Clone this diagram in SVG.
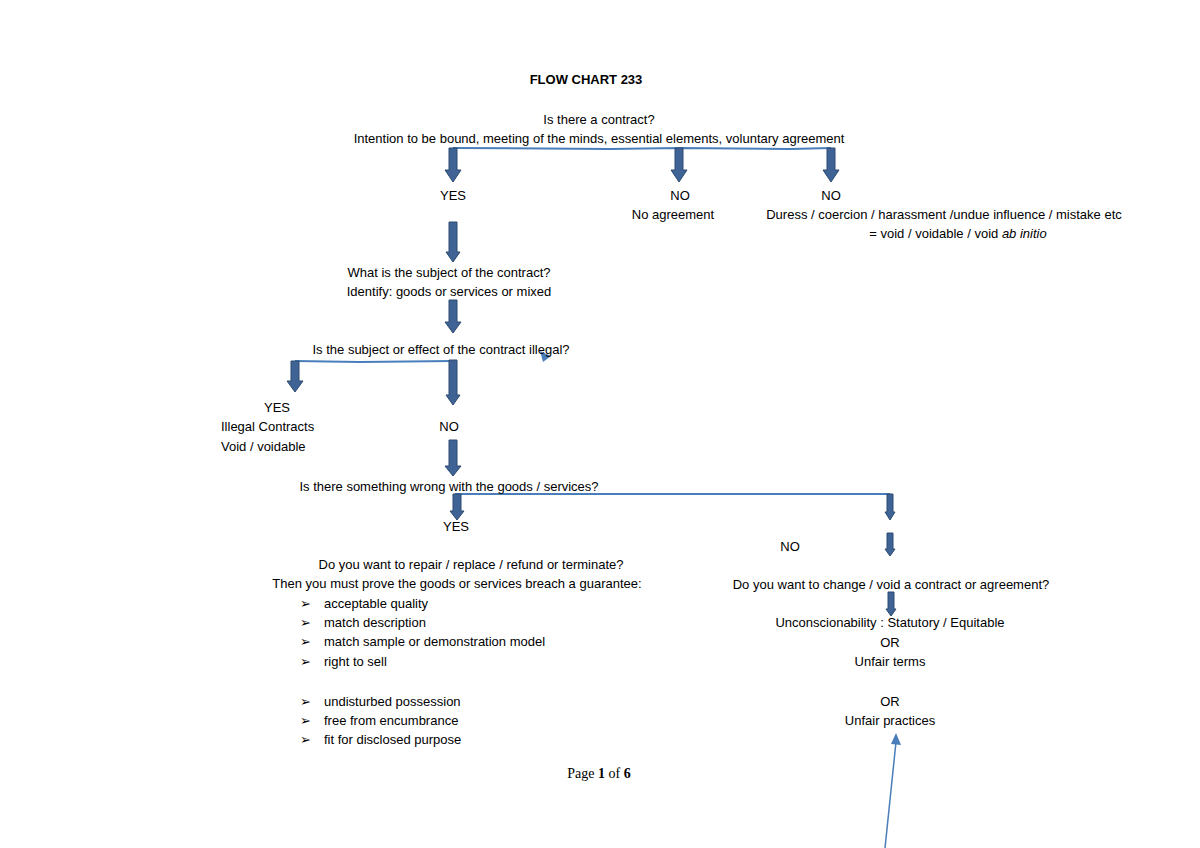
<svg xmlns="http://www.w3.org/2000/svg" width="1200" height="848" viewBox="0 0 1200 848">
<defs>
<style>
text{font-family:"Liberation Sans",Arial,sans-serif;font-size:13px;fill:#000}
.c{text-anchor:middle}
.ln{stroke:#4a7ebb;stroke-width:2;fill:none}
.ba{fill:#3e6394;stroke:#2c4a70;stroke-width:1}
</style>
<symbol id="ba" viewBox="0 0 16 10" overflow="visible"></symbol>
</defs>
<rect width="1200" height="848" fill="#fff"/>
<g id="connectors">
<path class="ln" d="M453 148 L610 149 L679 148 L790 149 L831 148"/>
<path class="ln" d="M295 361 L360 362 L453 361"/>
<path class="ln" d="M455 494 L890 494"/>
<polygon points="540,351 551,356 543,362" fill="#4a7ebb"/>
<path d="M885 848 L896 742" stroke="#4a7ebb" stroke-width="1.5" fill="none"/>
<polygon points="896,733 901,745 891,744" fill="#4a7ebb"/>
<path class="ba" d="M449 148 h8 v22 h4 l-8 12 l-8 -12 h4 z"/>
<path class="ba" d="M675 148 h8 v22 h4 l-8 12 l-8 -12 h4 z"/>
<path class="ba" d="M827 148 h8 v22 h4 l-8 12 l-8 -12 h4 z"/>
<path class="ba" d="M449 222 h8 v30 h3 l-7 10 l-7 -10 h3 z"/>
<path class="ba" d="M449 300 h8 v22 h4 l-8 11 l-8 -11 h4 z"/>
<path class="ba" d="M291 361 h8 v20 h4 l-8 11 l-8 -11 h4 z"/>
<path class="ba" d="M449 360 h8 v35 h3 l-7 10 l-7 -10 h3 z"/>
<path class="ba" d="M449 440 h8 v26 h4 l-8 10 l-8 -10 h4 z"/>
<path class="ba" d="M453 494 h8 v17 h3 l-7 9 l-7 -9 h3 z"/>
<path class="ba" d="M887 494 h6 v18 h2 l-5 8 l-5 -8 h2 z"/>
<path class="ba" d="M887 533 h6 v16 h2 l-5 7 l-5 -7 h2 z"/>
<path class="ba" d="M888 592 h6 v17 h2 l-5 7 l-5 -7 h2 z"/>
</g>
<g id="title"><text x="586" y="84" class="c" style="font-weight:bold">FLOW CHART 233</text></g>
<g id="n-contract"><text x="599" y="124" class="c">Is there a contract?</text><text x="599" y="143" class="c">Intention to be bound, meeting of the minds, essential elements, voluntary agreement</text></g>
<g id="n-yes1"><text x="453" y="200" class="c">YES</text></g>
<g id="n-no1"><text x="680" y="200" class="c">NO</text><text x="673" y="219" class="c">No agreement</text></g>
<g id="n-no2"><text x="831" y="200" class="c">NO</text><text x="944" y="219" class="c">Duress / coercion / harassment /undue influence / mistake etc</text><text x="958" y="238" class="c">= void / voidable / void <tspan font-style="italic">ab initio</tspan></text></g>
<g id="n-subject"><text x="449" y="277" class="c">What is the subject of the contract?</text><text x="449" y="296" class="c">Identify: goods or services or mixed</text></g>
<g id="n-illegal"><text x="441" y="354" class="c">Is the subject or effect of the contract illegal?</text></g>
<g id="n-yes2"><text x="277" y="412" class="c">YES</text><text x="221" y="431">Illegal Contracts</text><text x="221" y="451">Void / voidable</text></g>
<g id="n-no3"><text x="449" y="431" class="c">NO</text></g>
<g id="n-wrong"><text x="449" y="491" class="c">Is there something wrong with the goods / services?</text></g>
<g id="n-yes3"><text x="456" y="531" class="c">YES</text></g>
<g id="n-no4"><text x="790" y="551" class="c">NO</text></g>
<g id="n-repair"><text x="471" y="569" class="c">Do you want to repair / replace / refund or terminate?</text><text x="457" y="588" class="c">Then you must prove the goods or services breach a guarantee:</text>
<text x="300" y="608">➢</text><text x="324" y="608">acceptable quality</text>
<text x="300" y="627">➢</text><text x="324" y="627">match description</text>
<text x="300" y="646">➢</text><text x="324" y="646">match sample or demonstration model</text>
<text x="300" y="666">➢</text><text x="324" y="666">right to sell</text>
<text x="300" y="706">➢</text><text x="324" y="706">undisturbed possession</text>
<text x="300" y="725">➢</text><text x="324" y="725">free from encumbrance</text>
<text x="300" y="744">➢</text><text x="324" y="744">fit for disclosed purpose</text></g>
<g id="n-change"><text x="891" y="589" class="c">Do you want to change / void a contract or agreement?</text>
<text x="890" y="627" class="c">Unconscionability : Statutory / Equitable</text>
<text x="890" y="647" class="c">OR</text><text x="890" y="666" class="c">Unfair terms</text>
<text x="890" y="706" class="c">OR</text><text x="890" y="725" class="c">Unfair practices</text></g>
<g id="footer"><text x="599" y="778" class="c" style="font-family:'Liberation Serif',serif;font-size:14px">Page <tspan font-weight="bold">1</tspan> of <tspan font-weight="bold">6</tspan></text></g>
</svg>
